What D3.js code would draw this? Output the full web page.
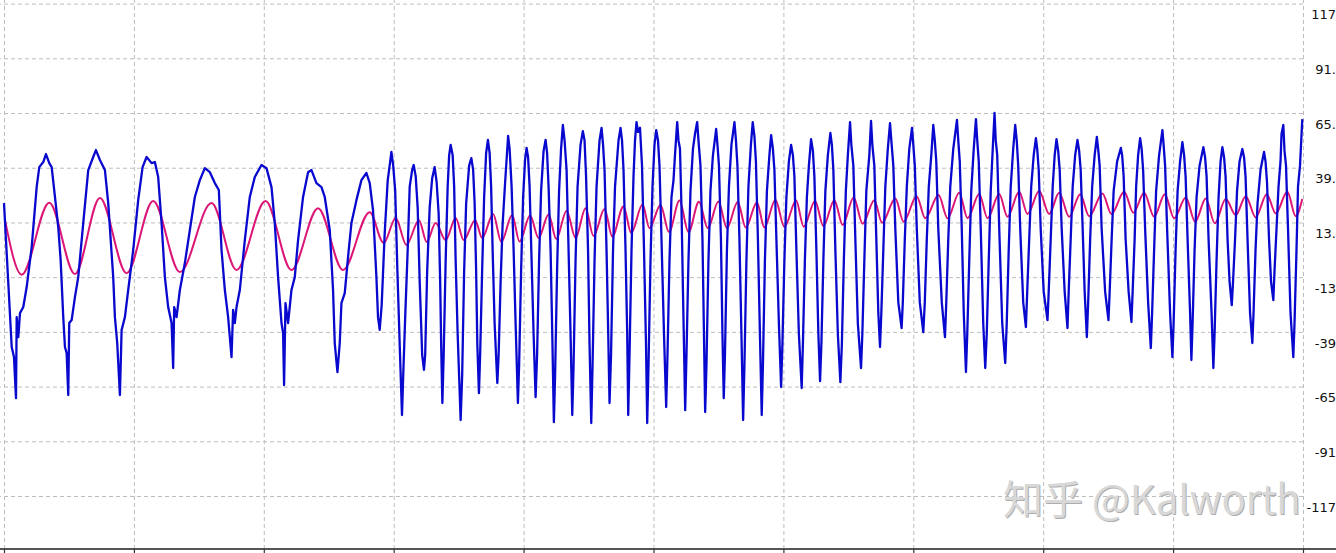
<!DOCTYPE html>
<html><head><meta charset="utf-8">
<script src="https://cdn.jsdelivr.net/npm/d3@7"></script>
<style>html,body{margin:0;padding:0;background:#fff;overflow:hidden}</style>
</head><body>
<svg id="chart" width="1336" height="553"></svg>
<script>
// ---- data ----
const xTicks = [0,130,260,390,520,650,780,910,1040,1170,1300];
const yTicks = [117,91,65,39,13,-13,-39,-65,-91,-117];
const yTickLabels = ["117","91.","65.","39.","13.","-13","-39","-65","-91","-117"];

// blue trace: [time, value]
const blueSignal = [
[0,22.2],[4.3,-15.8],[7.7,-46.2],[10,-51],[12,-70.5],[12.7,-32],[14.3,-41.5],[16,-30.1],[19.3,-27.2],[22.7,-17.7],[27.7,1.3],[32.7,29.8],[35.3,39.3],[39.3,41.7],[42,45.5],[45.3,41.2],[47.7,39.3],[51,25.1],[54.3,10.8],[56.7,-4.9],[59.3,-32],[61,-46.2],[62.7,-49.1],[64.3,-69],[65.3,-34.8],[67.7,-33.4],[71,-22.5],[74.3,-13],[79.3,12.7],[84.3,37.9],[89.3,44.1],[92,47.4],[96,42.7],[101,37.9],[104.3,22.2],[109.3,-13],[111,-32],[113.3,-44.3],[116,-69],[117.7,-38.1],[121,-32],[124.3,-19.1],[129.3,-0.1],[134.3,23.6],[138.7,39.3],[142.7,44.1],[147.7,41.2],[151,41.7],[154.3,34.6],[157.7,12.7],[161,-13],[164.3,-27.2],[167.7,-34.8],[169.3,-56.2],[170.3,-27.2],[172.7,-32],[176,-19.1],[181,-6.3],[186,9.4],[191,25.1],[196,33.1],[201,38.8],[206,36.9],[211,31.7],[215,28.4],[217.7,-0.1],[221,-19.1],[224.3,-32],[226,-41.5],[227.7,-51],[229.3,-28.6],[231,-34.8],[232.7,-27.2],[236,-19.1],[241,4.6],[246,25.1],[251,34.6],[257.7,40.3],[262.7,38.8],[267.7,29.8],[271,12.7],[274.3,-13],[277.7,-34.8],[279.3,-39.6],[280.3,-64.3],[281.7,-25.3],[284.3,-34.8],[287.7,-19.1],[291,-13],[294.3,4.6],[299.3,25.1],[304.3,36.9],[307.7,37.9],[312.7,31.7],[317.7,29.8],[321,25.1],[326,9.4],[329.3,-19.1],[331,-44.3],[333.7,-58.1],[336,-44.3],[337.7,-25.3],[341,-20.6],[344.3,-3.5],[347.7,12.7],[352.7,23.6],[357.7,33.1],[362.7,36.5],[366,31.7],[369.3,18.9],[372.7,-13],[374.3,-32],
[376,-38],[378,-26],[381,8],[384,33],[386.5,42],[387.7,46.5],[389.5,40],[391.5,28],[393.7,-10],[396,-45],
[398.3,-78.5],[399.5,-60],[401.5,-32],[404,0],[406,30],[408.5,38],[410,40.3],[412,35],[414,20],[416,-15],[418.5,-50],
[420.3,-57],[421.5,-50],[423.5,-10],[426,20],[428.5,34],[431,39.3],[433,32],[435,17],[436.5,-15],[437.5,-45],
[438.7,-72.8],[440,-50],[442,-5],[444,30],[445.5,45],[447,49.8],[449,45],[450.5,30],[452,-5],[454,-40],
[457,-80.9],[458.5,-60],[460.5,-10],[462.5,22],[465.5,40],[467.7,43.6],[469.5,38],[471,22],[472.5,-10],[473.7,-45],
[475.3,-68.1],[476.5,-50],[478.5,-10],[480.5,25],[482.5,46],[484.3,52.2],[486,46],[487.5,30],[489,0],[491,-35],
[493.7,-63.3],[495,-50],[497,-15],[499,12],[501.5,32],[504.5,54.1],[506,48],[508,30],[510,0],[512,-35],
[514.3,-72.8],[515.5,-55],[517.5,-10],[519.5,25],[521.5,43],[523,48.4],[524.5,44],[526,30],[528,-5],[530,-40],
[532,-70],[533.5,-50],[535.5,-5],[537.5,28],[540,47],[542,52.2],[543.5,46],[545,30],[547,0],[548.7,-40],
[550.3,-81.9],[551.5,-60],[553.5,-10],[555.5,28],[557.5,48],[559.3,59.3],[561,52],[563,38],[565,0],[567,-40],
[568.7,-78.5],[570,-55],[572,-5],[574,30],[577,50],[579.3,56.4],[581,52],[582.5,35],[584.5,0],[586,-45],
[587.7,-82.3],[589,-55],[591,-5],[593,30],[596,52],[598,57.9],[599.5,50],[601,38],[603,0],[604.7,-40],
[606,-72.8],[607.5,-50],[609.5,0],[611.5,30],[615,52],[617,57.9],[618.5,52],[620,38],[622,0],[623.7,-40],
[624.7,-78.5],[626,-50],[628,0],[630,35],[631.5,52],[633,60.7],[634.5,56],[636.5,58],[638.5,40],[640.5,0],[642.5,-45],
[643.7,-82.3],[645,-55],[647,-5],[649,30],[651,50],[652.7,56.9],[654.5,52],[656,40],[658,5],[660.5,-40],
[662.7,-74.7],[664,-50],[666,-5],[668,25],[670,33],[671.5,45],[673.7,60.7],[675,52],[676.5,48],[678,20],[679.5,-20],[680.7,-50],
[681.7,-76.2],[683,-50],[685,-5],[687,28],[689.5,48],[691.5,55],[693.7,60.7],[695,52],[697,40],[699,5],[700.5,-40],
[701.7,-77.1],[703,-55],[705,-5],[707,28],[709.5,45],[712.7,57.4],[714,50],[715.5,40],[717.5,5],[719,-40],
[720.3,-70.5],[721.5,-50],[723.5,0],[725.5,30],[728,50],[731,60.7],[732.5,52],[734,40],[736,5],[738,-40],
[739.7,-80.9],[741,-55],[743,-5],[745,30],[747.5,50],[749.3,60.7],[751,54],[752.5,42],[754.5,5],[756.5,-40],
[758.3,-78.5],[759.5,-55],[761.5,-5],[763.5,28],[766,45],[767.7,54.5],[769.5,48],[771,38],[773,5],[775.5,-35],
[777.7,-65.2],[779,-45],[781,-5],[783,25],[785.5,42],[787.7,49.8],[789.5,45],[791,35],[793,0],[795.5,-40],
[798.3,-65.7],[799.5,-45],[801.5,-5],[803.5,25],[805.5,40],[807.7,52.6],[809.5,47],[811,35],[813,0],[815,-40],
[816.7,-62.4],[818,-45],[820,-5],[822,28],[824.5,45],[827,55.5],[828.5,50],[830,38],[832,0],[834.5,-40],
[837,-62.9],[838.5,-45],[840.5,-5],[842.5,28],[844.5,45],[846.7,60.7],[848,50],[850,40],[852,5],[854.5,-35],
[857.7,-56.2],[859,-40],[861,-5],[863,28],[866,45],[867.7,61.2],[869,50],[871,40],[873,5],[875,-30],
[876.7,-46.2],[878,-30],[880,0],[882,30],[884.5,48],[886.7,60.2],[888,52],[890,40],[892,10],[895,-25],
[898.3,-37.2],[899.5,-25],[901.5,5],[903.5,30],[906,48],[908.7,57.9],[910,50],[911.5,40],[913.5,10],[916.5,-25],
[920,-39.1],[921.5,-25],[923.5,5],[925.5,30],[928,45],[930,59.3],[931.5,52],[933,42],[935,10],[938.5,-25],
[941.7,-41.5],[943,-25],[945,5],[947,30],[950,48],[953.7,61.7],[955,52],[956.5,42],[958.5,10],[960.5,-30],
[962.7,-58.1],[964,-40],[966,-5],[968,28],[970.5,48],[972.7,62.1],[974,52],[975.5,42],[977.5,10],[980,-35],
[982,-56.2],[983.5,-40],[985.5,-5],[987.5,28],[989.5,48],[991.3,65],[992.5,52],[994,45],[996,10],[999,-35],
[1002,-53.8],[1003.5,-35],[1005.5,0],[1007.5,30],[1010,48],[1012,59.3],[1013.5,52],[1015,40],[1017,10],[1020,-25],
[1022.7,-36.7],[1024,-20],[1026,5],[1028,30],[1030.5,45],[1032.7,53.1],[1034,48],[1035.5,38],[1037.5,10],[1040.5,-20],
[1044.3,-33.4],[1045.5,-20],[1047.5,5],[1049.5,30],[1051.5,45],[1053.3,52.6],[1055,47],[1056.5,38],[1058.5,10],[1061.5,-20],
[1064.3,-37.2],[1065.5,-20],[1067.5,5],[1069.5,30],[1072,45],[1074.3,52.2],[1076,47],[1077.5,38],[1079.5,10],[1081.5,-20],
[1083.7,-41.5],[1085,-25],[1087,5],[1089,30],[1091.5,45],[1093.7,53.6],[1095,48],[1096.5,40],[1098.5,10],[1102,-20],
[1105.3,-33.4],[1106.5,-20],[1108.5,5],[1110.5,28],[1114,42],[1117.7,48.4],[1119,45],[1120.5,35],[1122.5,5],[1125.5,-20],
[1128.3,-34.3],[1129.5,-20],[1131.5,5],[1133,30],[1135,45],[1137,53.1],[1138.5,48],[1140,38],[1142,10],[1145,-25],
[1147.7,-46.7],[1149,-30],[1151,0],[1153,28],[1156,45],[1159.3,56.9],[1160.5,50],[1162,40],[1164,10],[1167,-30],
[1169.3,-51],[1170.5,-35],[1172.5,0],[1174.5,28],[1177,42],[1179.3,51.2],[1181,45],[1182.5,35],[1184.5,5],[1187,-30],
[1188.3,-52.4],[1189.5,-35],[1191.5,0],[1193.5,25],[1196.5,40],[1200.3,48.8],[1202,44],[1203.5,35],[1205.5,5],[1208.5,-30],
[1210.3,-56.2],[1211.5,-40],[1213.5,-5],[1215.5,25],[1217.5,42],[1219.3,48.8],[1221,44],[1222.5,35],[1224.5,5],[1226.5,-15],
[1228.7,-26.3],[1230,-15],[1232,5],[1234,28],[1236.5,42],[1239.3,47.9],[1241,44],[1242.5,35],[1244.5,5],[1247,-30],
[1249.3,-44.3],[1250.5,-30],[1252.5,0],[1254.5,22],[1257.5,38],[1261,46.5],[1262.5,42],[1264,32],[1266,5],[1268,-15],
[1270.3,-23.9],[1271.5,-10],[1273.5,10],[1275.5,30],[1277.5,42],[1278.5,55],[1280.3,59.3],[1281.5,47],[1283,40],[1285,10],[1287.5,-30],
[1290.3,-51],[1291.5,-35],[1293.5,0],[1295,30],[1297,40],[1299.3,62.1]
];

// red trace: [time, value] (peaks and troughs)
const redSignal = [
[1,14.1],[17.7,-11.8],[45.3,22.4],[71,-11.5],[96,24.6],[122.7,-11.1],[149.3,23.2],[176,-10.6],[207.7,22.2],[232.7,-9.6],[261.7,23.2],[287.7,-9.6],[314.3,19.8],[339.3,-9.6],[366,17.9],
[380,3.2],[392,15.1],[402.7,2.3],[415.3,14.1],[423,3.7],[432,12.7],[442,4.6],[452,15.1],[460,4.6],[471.5,14.1],[478.5,5.6],[489.5,17],[497.7,3.7],[508.5,16.5],[516,3.9],[526.5,16.3],[535,5.6],[545,16.8],[552.7,5.1],[563,18.6],[572,5.6],[582,19.8],[590,6.5],[601,19.4],[608.7,6.3],[620,20.6],[627.7,8],[639,21.5],[646,10.3],[657,21.3],[665.5,8.4],[676,23.4],[685,8.4],[695.5,22.8],[704.3,10.3],[715,22.9],[723.5,10.3],[734.3,22.7],[742.3,10.6],[753.5,22.5],[761,10.6],[772,23.8],[781,10.8],[792.7,23.4],[800.3,11],[811.7,23.2],[820,11.3],[831,23.6],[839.3,11.8],[850.3,24.9],[859.3,12.4],[871,23.6],[878.7,12.9],[892,24.4],[900.3,13.3],[913.3,25.5],[922,15],[935.3,26],[944.3,15],[956,27.1],[964.3,15],[976,26.5],[984.3,15],[996,26.5],[1004.3,15.7],[1016,27.6],[1024.3,17],[1036,27.9],[1046,17],[1056,27.1],[1066,15.7],[1077,26.4],[1086,16],[1099.3,26.8],[1108.3,17],[1121,27.6],[1130.3,17.6],[1141,27.1],[1151,15.7],[1161.7,26.4],[1171,15],[1182.7,24.9],[1192,13.3],[1202.7,24.4],[1211.7,12.6],[1222.7,24.1],[1232.7,16.5],[1242.7,25.5],[1252.7,15.4],[1263.7,26.4],[1272.7,17.3],[1284.3,27.6],[1292.7,16],[1299.3,24.1]
];

// ---- drawing ----
const W = 1336, H = 553;
const svg = d3.select("#chart");
svg.append("rect").attr("width", W).attr("height", H).attr("fill", "#fff");

const x = d3.scaleLinear().domain([0, 1300]).range([4, 1303]);
const y = d3.scaleLinear().domain([-117, 117]).range([496, 3.6]);
const axisY = 549;

// vertical grid
const vGrid = svg.append("g").attr("transform", `translate(0,${axisY})`)
  .call(d3.axisBottom(x).tickValues(xTicks).tickSize(-axisY).tickFormat(""));
vGrid.select(".domain").remove();
vGrid.selectAll(".tick line").attr("stroke", "#bdbdbd").attr("stroke-dasharray", "4,3").attr("stroke-width", 1);

// horizontal grid
const hGrid = svg.append("g").attr("transform", `translate(1303,0)`)
  .call(d3.axisLeft(y).tickValues(yTicks).tickSize(1303).tickFormat(""));
hGrid.select(".domain").remove();
hGrid.selectAll(".tick line").attr("stroke", "#bdbdbd").attr("stroke-dasharray", "4,3").attr("stroke-width", 1);

// y labels on the right
const labelAxis = svg.append("g").attr("transform", `translate(1336,0)`)
  .call(d3.axisLeft(y).tickValues(yTicks).tickSize(0).tickPadding(0)
    .tickFormat((d, i) => yTickLabels[i]));
labelAxis.select(".domain").remove();
labelAxis.selectAll(".tick text")
  .attr("dy", "0.32em").attr("y", 11)
  .attr("font-family", "DejaVu Sans, Verdana, sans-serif")
  .attr("font-size", 13).attr("fill", "#111");

// bottom axis
svg.append("line").attr("x1", 0).attr("x2", W).attr("y1", axisY).attr("y2", axisY)
  .attr("stroke", "#555").attr("stroke-width", 2);
const bAxis = svg.append("g").attr("transform", `translate(0,${axisY})`)
  .call(d3.axisBottom(x).tickValues(xTicks).tickSize(5).tickFormat(""));
bAxis.select(".domain").remove();
bAxis.selectAll(".tick line").attr("stroke", "#333").attr("stroke-width", 1.2);

// watermark
const wm = svg.append("g").attr("font-family", "Noto Sans CJK SC, sans-serif").attr("font-size", 40);
wm.append("text").attr("x", 1004).attr("y", 515).attr("fill", "#adadad").text("知乎 @Kalworth");
wm.append("text").attr("x", 1003).attr("y", 514).attr("fill", "#d8d8d8").text("知乎 @Kalworth");

// lines
const lineRed = d3.line().x(d => x(d[0])).y(d => y(d[1])).curve(d3.curveMonotoneX);
const lineBlue = d3.line().x(d => x(d[0])).y(d => y(d[1]));

svg.append("path").datum(redSignal).attr("d", lineRed)
  .attr("fill", "none").attr("stroke", "#dc1676").attr("stroke-width", 2);
svg.append("path").datum(blueSignal).attr("d", lineBlue)
  .attr("fill", "none").attr("stroke", "#0808cf").attr("stroke-width", 2.3)
  .attr("stroke-linejoin", "round");
</script>
</body></html>
